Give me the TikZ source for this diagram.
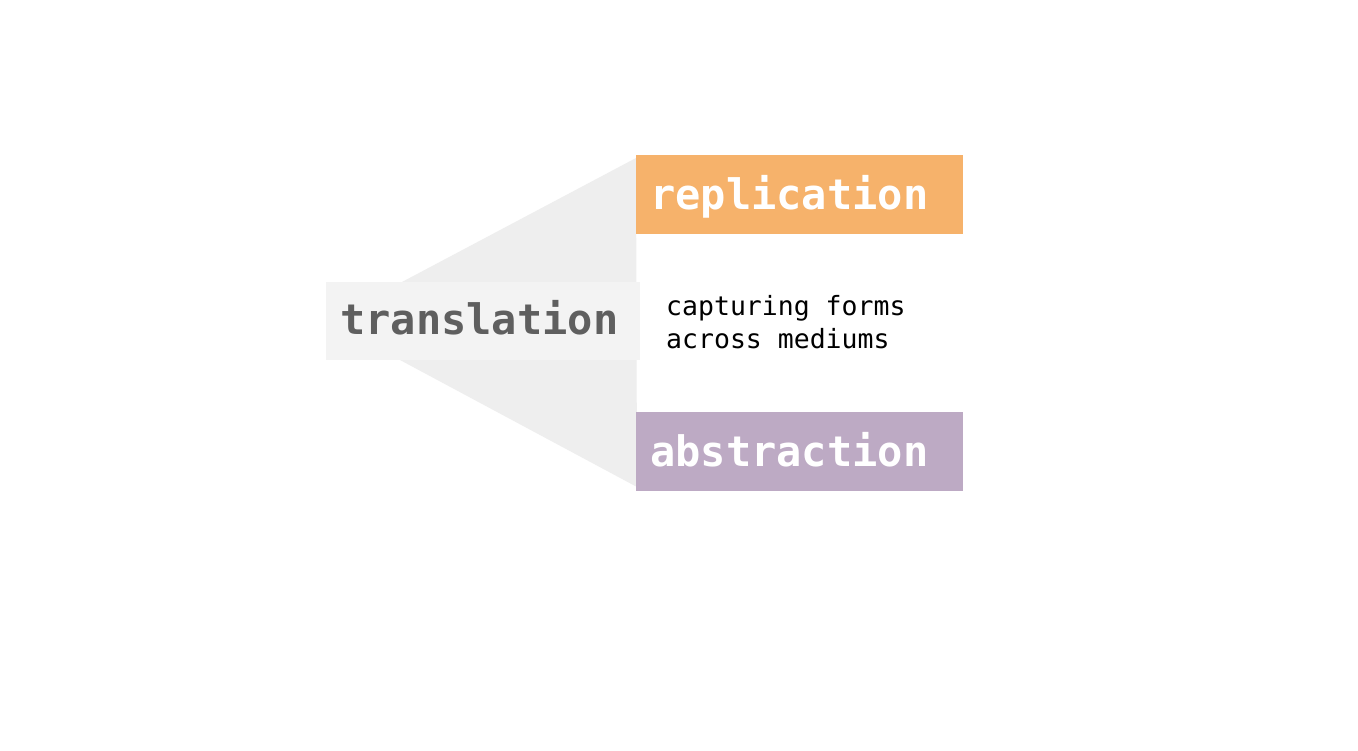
\documentclass[tikz,border=0pt]{standalone}
\usepackage{fontspec}
\setmonofont{DejaVu Sans Mono}
\definecolor{repl}{HTML}{F6B26B}
\definecolor{abst}{HTML}{BDAAC4}
\definecolor{trbox}{HTML}{F3F3F3}
\definecolor{fan}{HTML}{EEEEEE}
\definecolor{trtext}{HTML}{5F5F5F}
\begin{document}
\begin{tikzpicture}[x=1pt,y=-1pt,
  bigword/.style={anchor=base west,inner sep=0pt,font=\ttfamily\bfseries\fontsize{42}{48}\selectfont},
  smallword/.style={anchor=base west,inner sep=0pt,font=\ttfamily\fontsize{26.5}{33}\selectfont,text=black}]
\useasboundingbox[fill=white] (0,0) rectangle (1358,751);
% fan shape
\fill[fan] (402,282) -- (636,158) -- (637,487) -- (400,360) -- cycle;
% boxes
\fill[repl] (636,155) rectangle (963,234);
\fill[abst] (636,412) rectangle (963,491);
\fill[trbox] (326,282) rectangle (640,360);
% texts
\node[bigword,text=trtext] (tr) at (340,335) {translation};
\node[bigword,text=white] (rep) at (650,210) {replication};
\node[bigword,text=white] (abs) at (650,466) {abstraction};
\node[smallword] (cap1) at (666,316) {capturing forms};
\node[smallword] (cap2) at (666,349) {across mediums};
\end{tikzpicture}
\end{document}
